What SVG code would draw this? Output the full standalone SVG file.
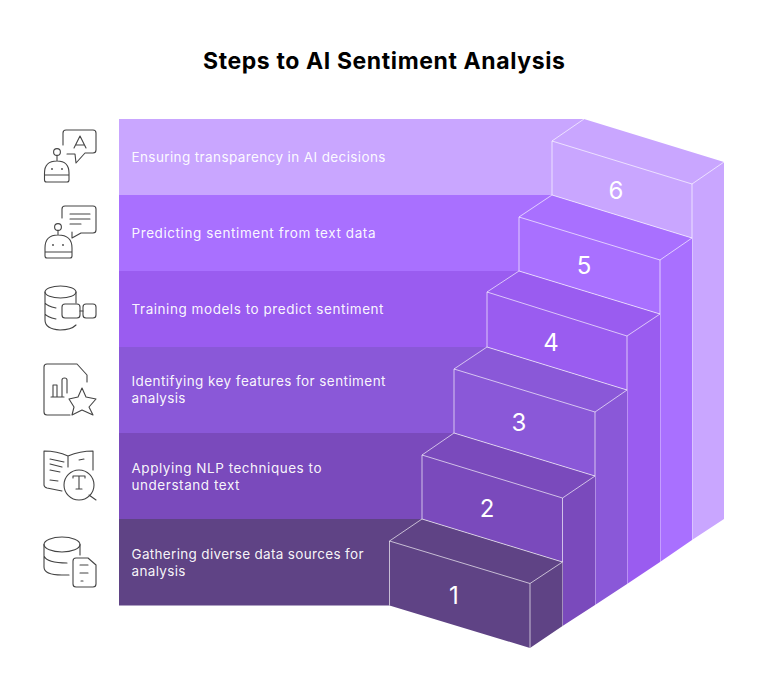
<svg xmlns="http://www.w3.org/2000/svg" width="768" height="692" viewBox="0 0 768 692">
<style>
text{font-family:"Inter","Liberation Sans",sans-serif}
.t{font-size:13.5px;fill:#fff;fill-opacity:.96}
.n{font-size:24px;fill:#fff;text-anchor:middle}
.e{stroke:#fff;stroke-opacity:.65;stroke-width:1;fill:none;stroke-linejoin:round}
.i{fill:none;stroke:#444;stroke-width:1.1;stroke-linecap:round;stroke-linejoin:round}
.d{fill:#444}
</style>
<rect width="768" height="692" fill="#fff"/>
<text x="384" y="69" text-anchor="middle" font-size="23" font-weight="700" fill="#000" textLength="362" lengthAdjust="spacing">Steps to AI Sentiment Analysis</text>
<g id="step6">
<path d="M119 119H584L724 162V519L692 540V238L552 195H119Z" fill="#c9a6ff"/>
<path class="e" d="M584 119L552 141V195M552 141L692 184L724 162M692 184V540"/>
<text class="t" x="131.500" y="162" textLength="254" lengthAdjust="spacing">Ensuring transparency in AI decisions</text>
<text class="n" x="616" y="199">6</text>
</g>
<g id="step5">
<path d="M119 195H552L692 238V540L660 562V314L519 271H119Z" fill="#a970ff"/>
<path class="e" d="M552 195L692 238M552 195L519 217V271M519 217L660 260L692 238M660 260V562"/>
<text class="t" x="131.500" y="238" textLength="244" lengthAdjust="spacing">Predicting sentiment from text data</text>
<text class="n" x="584" y="274">5</text>
</g>
<g id="step4">
<path d="M119 271H519L660 314V562L627 584V390L487 347H119Z" fill="#9a5cf0"/>
<path class="e" d="M519 271L660 314M519 271L487 292V347M487 292L627 336L660 314M627 336V584"/>
<text class="t" x="131.500" y="314" textLength="252" lengthAdjust="spacing">Training models to predict sentiment</text>
<text class="n" x="551" y="351">4</text>
</g>
<g id="step3">
<path d="M119 347H487L627 390V584L595 605V476L454 433H119Z" fill="#8a58d8"/>
<path class="e" d="M487 347L627 390M487 347L454 369V433M454 369L595 412L627 390M595 412V605"/>
<text class="t" x="131.500" y="386" textLength="254" lengthAdjust="spacing">Identifying key features for sentiment</text>
<text class="t" x="131.500" y="403" textLength="54" lengthAdjust="spacing">analysis</text>
<text class="n" x="519" y="431">3</text>
</g>
<g id="step2">
<path d="M119 433H454L595 476V605L562.500 626V562L422 519H119Z" fill="#7a4abc"/>
<path class="e" d="M454 433L595 476M454 433L422 455V519M422 455L562.500 498L595 476M562.500 498V626"/>
<text class="t" x="131.500" y="473" textLength="190" lengthAdjust="spacing">Applying NLP techniques to</text>
<text class="t" x="131.500" y="490" textLength="108" lengthAdjust="spacing">understand text</text>
<text class="n" x="487" y="517">2</text>
</g>
<g id="step1">
<path d="M119 519H422L562.500 562V626L530 648L389.500 605.500H119Z" fill="#5f4385"/>
<path class="e" d="M422 519L562.500 562M422 519L389.500 541V605.500M389.500 541L530 583.500L562.500 562M530 583.500V648"/>
<text class="t" x="131.500" y="559" textLength="232" lengthAdjust="spacing">Gathering diverse data sources for</text>
<text class="t" x="131.500" y="576" textLength="54" lengthAdjust="spacing">analysis</text>
<text class="n" x="454" y="604">1</text>
</g>
<g id="icon6">
<path class="i" d="M63 145V133Q63 130 66 130H93Q96 130 96 133V150Q96 153 93 153H85L76 163L75 154H67"/>
<path class="i" d="M74 148L80 136L86 148M76 145H84"/>
<circle class="i" cx="57" cy="152" r="3.400"/>
<path class="i" d="M57 155.500V161M44.500 175V173Q44.500 161 57 161Q69 161 69 173V175M44.500 175H69V180Q69 182 67 182H46.500Q44.500 182 44.500 180Z"/>
<circle class="d" cx="52" cy="169" r=".9"/><circle class="d" cx="62" cy="169" r=".9"/>
</g>
<g id="icon5">
<path class="i" d="M62 218V209Q62 206 65 206H93Q96 206 96 209V230Q96 233 93 233H81L72 238V232"/>
<path class="i" d="M70 214H90M70 219H90M70 224H81"/>
<circle class="i" cx="58" cy="227" r="3.400"/>
<path class="i" d="M58 230.500V235M45 252V248Q45 235 58 235Q72 235 72 248V252M45 252H72V256Q72 258 70 258H47Q45 258 45 256Z"/>
<circle class="d" cx="53" cy="245" r=".9"/><circle class="d" cx="63" cy="245" r=".9"/>
</g>
<g id="icon4">
<ellipse class="i" cx="60.500" cy="292" rx="15.500" ry="6"/>
<path class="i" d="M45 292V320Q45 329 60 330Q71 330 76 325M76 292V303M45 303Q47 306 56 308M45 314Q47 317 56 319"/>
<rect class="i" x="62" y="304" width="18" height="14" rx="3"/>
<rect class="i" x="83" y="304" width="13" height="14" rx="3"/>
<path class="i" d="M80 311H83"/>
</g>
<g id="icon3">
<path class="i" d="M70 415H47Q44 415 44 412V367Q44 364 47 364H77L87 375V382"/>
<path class="i" d="M51 397H64M53 397V385H57V397M62 397V380Q62 378 64.500 378Q67 378 67 380V393"/>
<path class="i" d="M82 388L86 397L96 399L89 407L93 415L82 410L72 415L74 407L69 399L78 397Z"/>
</g>
<g id="icon2">
<path class="i" d="M62 491L47 488Q44 487 44 485V451Q57 451 68 456Q80 451 93 451V470M68 456V467"/>
<path class="i" d="M50 459L64 462M50 464L62 467M50 470L60 472M50 480L58 481M84 459L79 460"/>
<circle class="i" cx="79" cy="485" r="15"/>
<path class="i" d="M73 478V476H85V478M79 476V489M76 489H82M89 495L96 500"/>
</g>
<g id="icon1">
<ellipse class="i" cx="62" cy="544.500" rx="18" ry="7.500"/>
<path class="i" d="M44 544.500V567Q44 575 62 575H69M80 544.500V555M44 556Q47 563 67 563"/>
<path class="i" d="M76 558H88L96 565V584Q96 587 93 587H76Q73 587 73 584V561Q73 558 76 558Z"/>
<path class="i" d="M80 565H88M80 573H88M81 581H83"/>
</g>
</svg>
